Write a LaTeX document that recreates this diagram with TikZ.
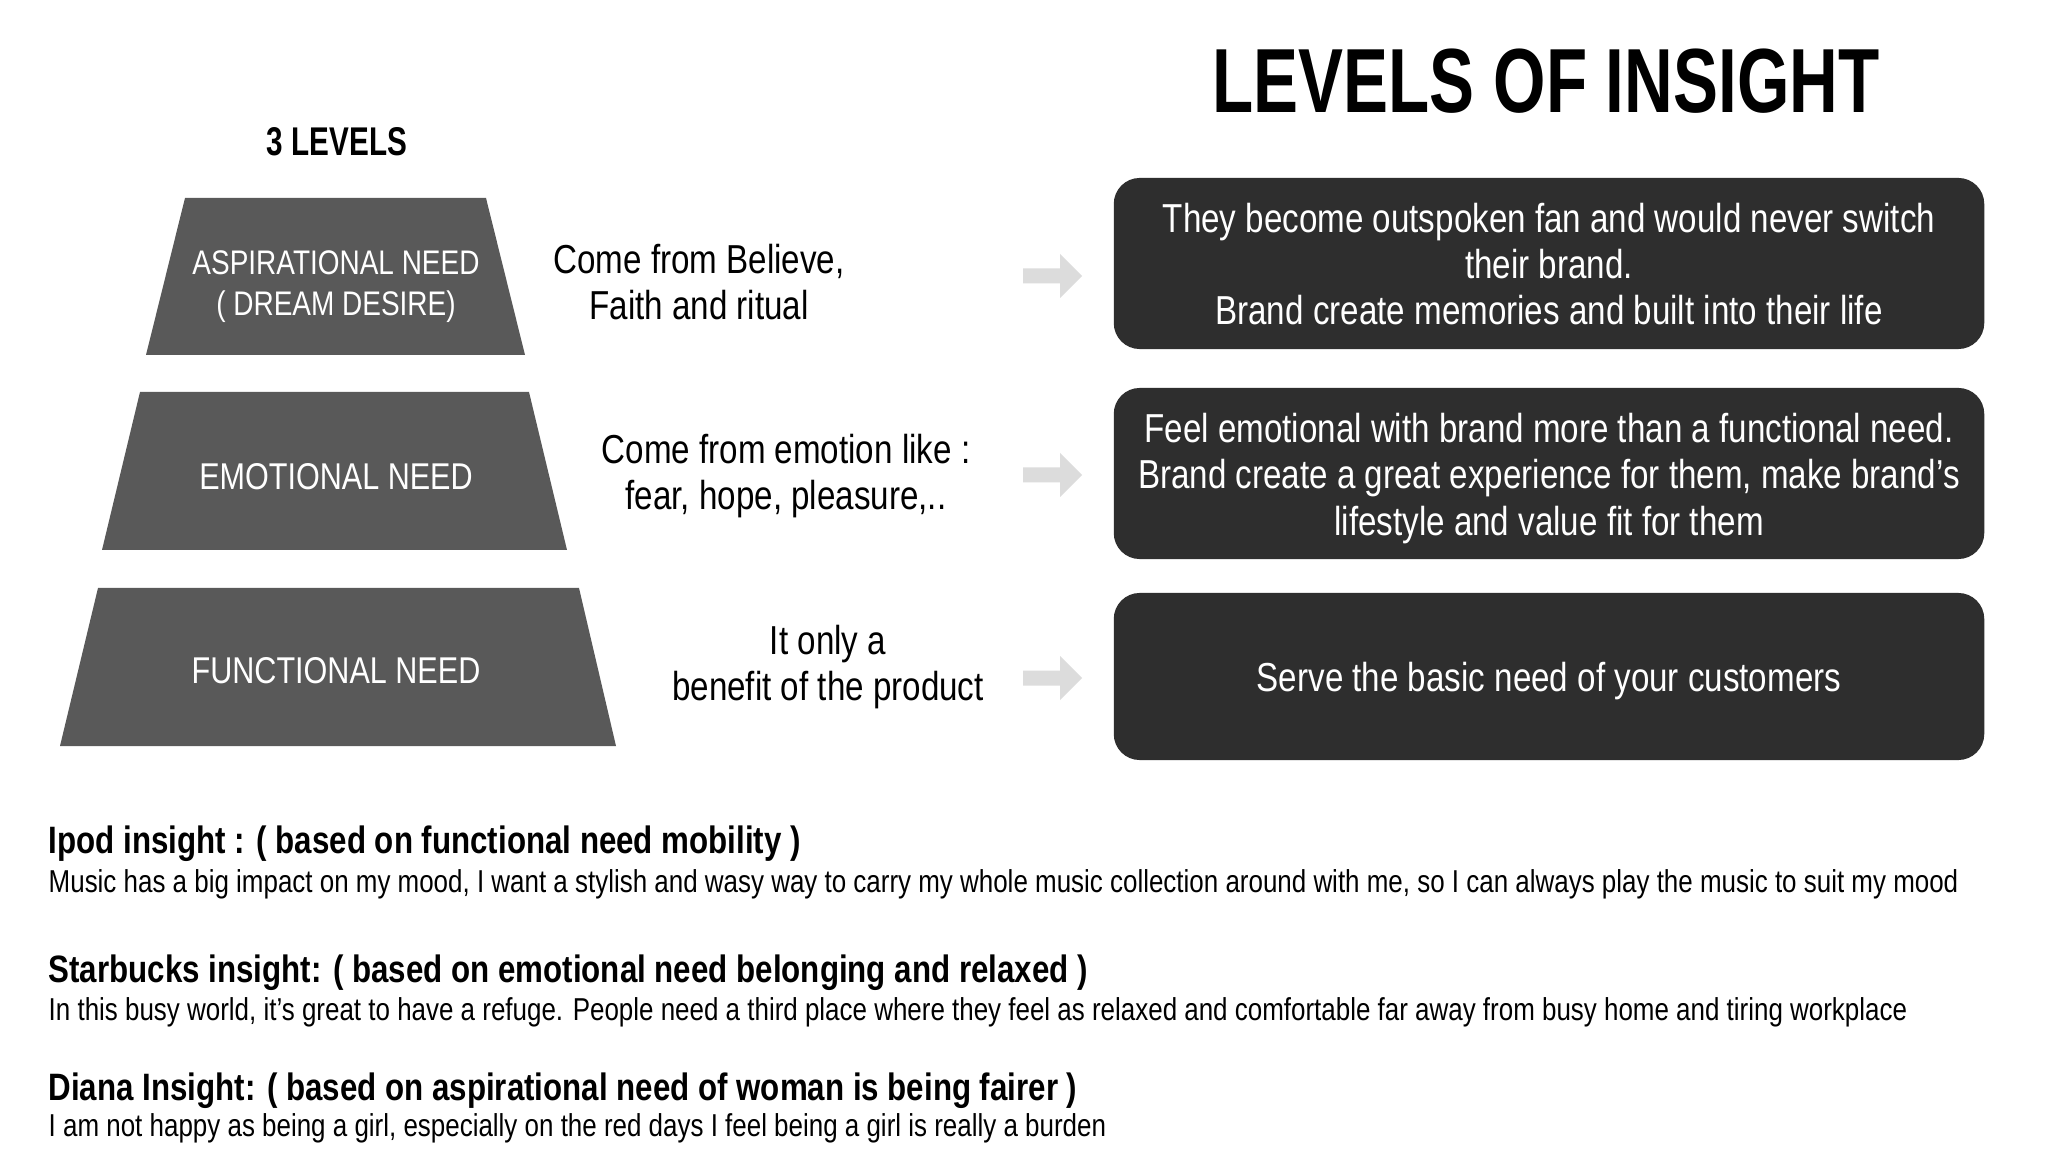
\documentclass[tikz,border=0pt]{standalone}
\usepackage{fontspec}
\setmainfont{Liberation Sans}[FakeStretch=0.82]
\newfontfamily\titlefont{Liberation Sans}[FakeStretch=0.74]

\definecolor{trapgray}{HTML}{595959}
\definecolor{boxdark}{HTML}{2E2E2E}
\definecolor{arrowgray}{HTML}{DCDCDC}

\begin{document}
\begin{tikzpicture}[x=0.01cm, y=-0.01cm,
    level/.style={text=white, align=center, font=\fontsize{10.6}{11.6}\selectfont},
    note/.style={align=center, font=\fontsize{11.5}{13.1}\selectfont},
    insightbox/.style={fill=boxdark, rounded corners=0.26cm, minimum width=8.7cm},
    boxtext/.style={text=white, align=center, font=\fontsize{11.5}{13.1}\selectfont},
    head/.style={anchor=base west, inner sep=0pt, font=\bfseries\fontsize{10.85}{12}\selectfont},
    body/.style={anchor=base west, inner sep=0pt, font=\fontsize{9}{10}\selectfont}]

    % Page
    \useasboundingbox (0,0) rectangle (2048,1152);
    \fill[white] (0,0) rectangle (2048,1152);

    % Titles
    \node[font=\titlefont\bfseries\fontsize{25.9}{30}\selectfont] (title) at (1546,81) {LEVELS OF INSIGHT};
    \node[font=\titlefont\bfseries\fontsize{11.4}{13}\selectfont] (levels) at (337,142) {3 LEVELS};

    % Pyramid levels
    \fill[trapgray] (185,198) -- (486,198) -- (525,355) -- (146,355) -- cycle;
    \fill[trapgray] (140,392) -- (529,392) -- (567,550) -- (102,550) -- cycle;
    \fill[trapgray] (98,588) -- (579,588) -- (616,746) -- (60,746) -- cycle;
    \node[level, font=\fontsize{9.7}{11.6}\selectfont] (asp) at (336,287) {ASPIRATIONAL NEED\\( DREAM DESIRE)};
    \node[level] (emo) at (336,477) {EMOTIONAL NEED};
    \node[level] (fun) at (336,671) {FUNCTIONAL NEED};

    % Where each need comes from
    \node[note] (src1) at (699,282) {Come from Believe,\\Faith and ritual};
    \node[note] (src2) at (786,476) {Come from emotion like :\\fear, hope, pleasure,..};
    \node[note] (src3) at (828,667) {It only a\\benefit of the product};

    % Arrows
    \foreach \y in {276,475,678}
        \fill[arrowgray] (1023,\y-7.5) -- (1060,\y-7.5) -- (1060,\y-22) -- (1082,\y)
            -- (1060,\y+22) -- (1060,\y+7.5) -- (1023,\y+7.5) -- cycle;

    % Insight boxes
    \node[insightbox, minimum height=1.71cm] (box1) at (1549,263.5) {};
    \node[insightbox, minimum height=1.71cm] (box2) at (1549,473.5) {};
    \node[insightbox, minimum height=1.67cm] (box3) at (1549,676.5) {};
    \node[boxtext] (box1txt) at (1549,264)
        {They become outspoken fan and would never switch\\their brand.\\Brand create memories and built into their life};
    \node[boxtext] (box2txt) at (1549,478.5)
        {Feel emotional with brand more than a functional need.\\Brand create a great experience for them, make brand’s\\lifestyle and value fit for them};
    \node[boxtext] (box3txt) at (1549,681.5)
        {Serve the basic need of your customers};

    % Examples
    \node[head] (ipod) at (48,853) {Ipod insight : ( based on functional need mobility )};
    \node[body] (ipodtxt) at (48,892) {Music has a big impact on my mood, I want a stylish and wasy way to carry my whole music collection around with me, so I can always play the music to suit my mood};
    \node[head] (sbux) at (48,982) {Starbucks insight: ( based on emotional need belonging and relaxed )};
    \node[body] (sbuxtxt) at (48,1020) {In this busy world, it’s great to have a refuge. People need a third place where they feel as relaxed and comfortable far away from busy home and tiring workplace};
    \node[head] (diana) at (48,1100) {Diana Insight: ( based on aspirational need of woman is being fairer )};
    \node[body] (dianatxt) at (48,1136) {I am not happy as being a girl, especially on the red days I feel being a girl is really a burden};
\end{tikzpicture}
\end{document}
